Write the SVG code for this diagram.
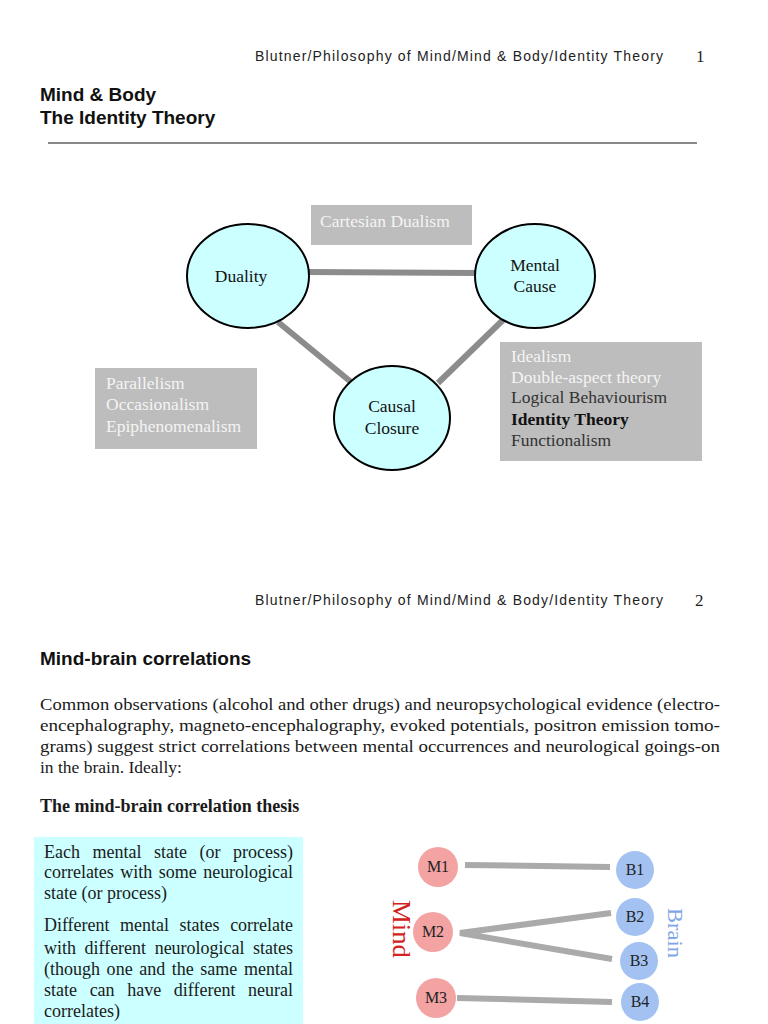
<svg xmlns="http://www.w3.org/2000/svg" width="768" height="1024" viewBox="0 0 768 1024">
<style>
.hdr{font-family:"Liberation Sans",Arial,sans-serif;font-size:14px;fill:#222}
.pg{font-family:"Liberation Serif","Times New Roman",serif;font-size:17px;fill:#222}
.h1{font-family:"Liberation Sans",Arial,sans-serif;font-size:19px;font-weight:bold;fill:#111}
.serif{font-family:"Liberation Serif","Times New Roman",serif;font-size:17.5px;fill:#1a1a1a}
.box{font-family:"Liberation Serif","Times New Roman",serif;font-size:18px;fill:#1a1a1a}
.node{fill:#ccffff;stroke:#000;stroke-width:2}
.lbl{font-family:"Liberation Serif","Times New Roman",serif;font-size:17.5px;fill:#111;text-anchor:middle}
.gbox{fill:#bdbdbd}
.wt{fill:#f4f4f4}
.conn{stroke:#8c8c8c;stroke-width:6;fill:none}
.conn2{stroke:#aaaaaa;stroke-width:6;fill:none}
.m{fill:#f4a3a3}
.b{fill:#a3c2f2}
.ml{font-family:"Liberation Serif","Times New Roman",serif;font-size:16px;fill:#222;text-anchor:middle}
</style>
<rect width="768" height="1024" fill="#ffffff"/>

<text class="hdr" x="255" y="61" textLength="408" lengthAdjust="spacing">Blutner/Philosophy of Mind/Mind &amp; Body/Identity Theory</text>
<text class="pg" x="696" y="62">1</text>
<text class="h1" x="40" y="101">Mind &amp; Body</text>
<text class="h1" x="40" y="124">The Identity Theory</text>
<line x1="48" y1="143" x2="697" y2="143" stroke="#888" stroke-width="2"/>

<g id="connectors">
<line class="conn" x1="307" y1="272" x2="476" y2="273"/>
<line class="conn" x1="278" y1="322" x2="351" y2="382"/>
<line class="conn" x1="503" y1="320" x2="438" y2="383"/>
</g>

<g id="cartesian">
<rect class="gbox" x="311" y="205" width="161" height="40"/>
<text class="serif wt" x="320" y="227">Cartesian Dualism</text>
</g>
<g id="duality">
<ellipse class="node" cx="248" cy="276" rx="61" ry="52"/>
<text class="lbl" x="241" y="282">Duality</text>
</g>
<g id="mental-cause">
<ellipse class="node" cx="535" cy="276" rx="60" ry="52"/>
<text class="lbl" x="535" y="271">Mental</text>
<text class="lbl" x="535" y="292">Cause</text>
</g>
<g id="causal-closure">
<ellipse class="node" cx="392" cy="418" rx="58" ry="52"/>
<text class="lbl" x="392" y="412">Causal</text>
<text class="lbl" x="392" y="434">Closure</text>
</g>
<g id="parallelism">
<rect class="gbox" x="95" y="368" width="162" height="81"/>
<text class="serif wt" x="106" y="389">Parallelism</text>
<text class="serif wt" x="106" y="410">Occasionalism</text>
<text class="serif wt" x="106" y="432">Epiphenomenalism</text>
</g>
<g id="theories">
<rect class="gbox" x="500" y="342" width="202" height="119"/>
<text class="serif wt" x="511" y="362">Idealism</text>
<text class="serif wt" x="511" y="383">Double-aspect theory</text>
<text class="serif" x="511" y="403" style="fill:#333">Logical Behaviourism</text>
<text class="serif" x="511" y="425" style="font-weight:bold;fill:#111">Identity Theory</text>
<text class="serif" x="511" y="446" style="fill:#333">Functionalism</text>
</g>

<text class="hdr" x="255" y="605" textLength="408" lengthAdjust="spacing">Blutner/Philosophy of Mind/Mind &amp; Body/Identity Theory</text>
<text class="pg" x="695" y="606">2</text>
<text class="h1" x="40" y="665">Mind-brain correlations</text>

<g class="serif">
<text x="40" y="710" textLength="680" lengthAdjust="spacingAndGlyphs">Common observations (alcohol and other drugs) and neuropsychological evidence (electro-</text>
<text x="40" y="731" textLength="680" lengthAdjust="spacingAndGlyphs">encephalography, magneto-encephalography, evoked potentials, positron emission tomo-</text>
<text x="40" y="752" textLength="680" lengthAdjust="spacingAndGlyphs">grams) suggest strict correlations between mental occurrences and neurological goings-on</text>
<text x="40" y="773">in the brain. Ideally:</text>
</g>
<text class="serif" x="40" y="812" style="font-weight:bold;font-size:18px">The mind-brain correlation thesis</text>

<g id="thesis">
<rect x="34" y="837" width="269" height="187" fill="#ccffff"/>
<g class="box">
<text x="44" y="858" word-spacing="8" textLength="249" lengthAdjust="spacing">Each mental state (or process)</text>
<text x="44" y="878" word-spacing="2" textLength="249" lengthAdjust="spacing">correlates with some neurological</text>
<text x="44" y="899">state (or process)</text>
<text x="44" y="931" word-spacing="6.1" textLength="249" lengthAdjust="spacing">Different mental states correlate</text>
<text x="44" y="954" word-spacing="4.1" textLength="249" lengthAdjust="spacing">with different neurological states</text>
<text x="44" y="975" word-spacing="2" textLength="249" lengthAdjust="spacing">(though one and the same mental</text>
<text x="44" y="996" word-spacing="8.2" textLength="249" lengthAdjust="spacing">state can have different neural</text>
<text x="44" y="1017">correlates)</text>
</g>
</g>

<g id="mb-connectors">
<line class="conn2" x1="465" y1="865" x2="610" y2="867"/>
<polyline class="conn2" points="611,913 460,933 612,959"/>
<line class="conn2" x1="457" y1="998" x2="612" y2="1002"/>
</g>
<g id="M1"><circle class="m" cx="438" cy="867" r="20"/><text class="ml" x="438" y="872">M1</text></g>
<g id="M2"><circle class="m" cx="433" cy="932" r="20"/><text class="ml" x="433" y="937">M2</text></g>
<g id="M3"><circle class="m" cx="436" cy="998" r="20"/><text class="ml" x="436" y="1003">M3</text></g>
<g id="B1"><circle class="b" cx="635" cy="870" r="19"/><text class="ml" x="635" y="875">B1</text></g>
<g id="B2"><circle class="b" cx="635" cy="917" r="19"/><text class="ml" x="635" y="922">B2</text></g>
<g id="B3"><circle class="b" cx="639" cy="961" r="19"/><text class="ml" x="639" y="966">B3</text></g>
<g id="B4"><circle class="b" cx="640" cy="1002" r="19"/><text class="ml" x="640" y="1007">B4</text></g>
<text transform="translate(393,900) rotate(90)" textLength="58" lengthAdjust="spacingAndGlyphs" style="font-family:'Liberation Serif','Times New Roman',serif;font-size:25px;fill:#d42020">Mind</text>
<text transform="translate(668,908) rotate(90)" textLength="50" lengthAdjust="spacingAndGlyphs" style="font-family:'Liberation Serif','Times New Roman',serif;font-size:20px;fill:#7fa6e6">Brain</text>
</svg>
